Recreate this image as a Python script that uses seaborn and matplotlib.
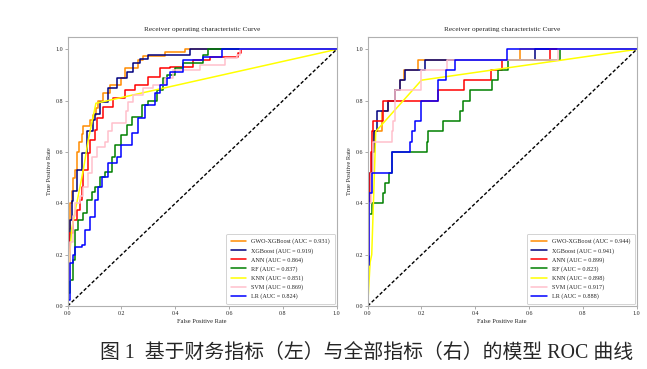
import matplotlib
matplotlib.use("Agg")
import matplotlib.pyplot as plt
import pandas as pd
import seaborn as sns

# Model names / colours / AUC values
models = ["GWO-XGBoost", "XGBoost", "ANN", "RF", "KNN", "SVM", "LR"]
colors = ["darkorange", "navy", "red", "green", "yellow", "pink", "blue"]
auc_left = [0.931, 0.919, 0.864, 0.837, 0.851, 0.869, 0.824]
auc_right = [0.944, 0.941, 0.899, 0.823, 0.898, 0.917, 0.888]

# ---- Left panel: financial indicators ----
fpr_l_gwo = [0, 0, 0.005, 0.01, 0.015, 0.02, 0.027, 0.035, 0.043, 0.052, 0.058, 0.083, 0.095, 0.105, 0.114, 0.132, 0.157, 0.2, 0.213, 0.262, 0.281, 0.362, 0.437, 1]
tpr_l_gwo = [0, 0.1, 0.3, 0.4, 0.45, 0.5, 0.53, 0.6, 0.64, 0.67, 0.7, 0.725, 0.745, 0.77, 0.8, 0.83, 0.86, 0.887, 0.926, 0.958, 0.975, 0.988, 1.0, 1.0]
fpr_l_xgb = [0, 0, 0.009, 0.015, 0.02, 0.033, 0.052, 0.07, 0.095, 0.1, 0.12, 0.151, 0.182, 0.219, 0.244, 0.269, 0.3, 0.455, 1]
tpr_l_xgb = [0, 0.166, 0.335, 0.41, 0.45, 0.53, 0.595, 0.68, 0.725, 0.75, 0.796, 0.848, 0.887, 0.913, 0.948, 0.962, 0.978, 1.0, 1.0]
fpr_l_ann = [0, 0, 0.006, 0.02, 0.033, 0.046, 0.052, 0.058, 0.077, 0.083, 0.101, 0.108, 0.132, 0.17, 0.213, 0.25, 0.3, 0.343, 0.38, 0.467, 0.529, 0.634, 0.645, 1]
tpr_l_ann = [0, 0.2, 0.283, 0.335, 0.374, 0.413, 0.465, 0.53, 0.595, 0.647, 0.686, 0.731, 0.776, 0.809, 0.841, 0.861, 0.893, 0.926, 0.932, 0.958, 0.971, 0.984, 1.0, 1.0]
fpr_l_rf = [0, 0, 0.01, 0.021, 0.027, 0.04, 0.058, 0.07, 0.089, 0.101, 0.12, 0.139, 0.164, 0.176, 0.2, 0.219, 0.238, 0.275, 0.3, 0.331, 0.355, 0.37, 0.399, 0.43, 0.504, 0.523, 1]
tpr_l_rf = [0, 0.05, 0.1, 0.18, 0.296, 0.335, 0.361, 0.413, 0.445, 0.465, 0.504, 0.523, 0.58, 0.627, 0.666, 0.705, 0.737, 0.783, 0.8, 0.841, 0.887, 0.9, 0.926, 0.945, 0.978, 1.0, 1.0]
fpr_l_knn = [0, 0, 0.015, 0.058, 0.077, 0.105, 1]
tpr_l_knn = [0, 0.1, 0.3, 0.53, 0.65, 0.79, 1.0]
fpr_l_svm = [0, 0, 0.01, 0.02, 0.027, 0.046, 0.058, 0.075, 0.089, 0.108, 0.139, 0.151, 0.164, 0.215, 0.225, 0.244, 0.281, 0.318, 0.36, 0.393, 0.492, 0.585, 0.628, 0.64, 1]
tpr_l_svm = [0, 0.1, 0.25, 0.35, 0.4, 0.43, 0.465, 0.52, 0.58, 0.62, 0.64, 0.68, 0.712, 0.76, 0.796, 0.822, 0.848, 0.861, 0.89, 0.919, 0.939, 0.965, 0.978, 1.0, 1.0]
fpr_l_lr = [0, 0, 0.009, 0.02, 0.027, 0.052, 0.064, 0.083, 0.101, 0.114, 0.126, 0.151, 0.182, 0.2, 0.238, 0.262, 0.287, 0.325, 0.343, 0.368, 0.38, 0.43, 0.504, 0.572, 1]
tpr_l_lr = [0, 0.023, 0.166, 0.2, 0.231, 0.238, 0.296, 0.348, 0.413, 0.465, 0.504, 0.556, 0.58, 0.627, 0.673, 0.731, 0.783, 0.829, 0.861, 0.887, 0.913, 0.958, 0.971, 1.0, 1.0]

# ---- Right panel: all indicators ----
fpr_r_gwo = [0, 0, 0.004, 0.01, 0.015, 0.022, 0.052, 0.055, 0.077, 0.101, 0.12, 0.135, 0.188, 0.566, 1]
tpr_r_gwo = [0, 0.16, 0.44, 0.52, 0.6, 0.68, 0.72, 0.76, 0.8, 0.84, 0.88, 0.92, 0.96, 1.0, 1.0]
fpr_r_xgb = [0, 0, 0.004, 0.01, 0.015, 0.022, 0.033, 0.035, 0.077, 0.101, 0.12, 0.139, 0.213, 0.622, 1]
tpr_r_xgb = [0, 0.16, 0.44, 0.52, 0.6, 0.68, 0.72, 0.76, 0.8, 0.84, 0.88, 0.92, 0.96, 1.0, 1.0]
fpr_r_ann = [0, 0, 0.006, 0.008, 0.012, 0.015, 0.02, 0.058, 0.262, 0.359, 0.46, 0.498, 0.678, 1]
tpr_r_ann = [0, 0.2, 0.4, 0.52, 0.6, 0.68, 0.72, 0.8, 0.84, 0.88, 0.92, 0.96, 1.0, 1.0]
fpr_r_rf = [0, 0, 0.006, 0.015, 0.058, 0.064, 0.08, 0.089, 0.092, 0.219, 0.226, 0.281, 0.343, 0.356, 0.38, 0.461, 0.486, 0.523, 0.715, 1]
tpr_r_rf = [0, 0.32, 0.36, 0.4, 0.44, 0.48, 0.52, 0.56, 0.6, 0.64, 0.68, 0.72, 0.76, 0.8, 0.84, 0.88, 0.92, 0.96, 1.0, 1.0]
fpr_r_knn = [0, 0.009, 0.015, 0.03, 0.2, 1]
tpr_r_knn = [0, 0.17, 0.2, 0.68, 0.88, 1.0]
fpr_r_svm = [0, 0, 0.006, 0.012, 0.018, 0.021, 0.089, 0.095, 0.1, 0.2, 0.294, 0.709, 1]
tpr_r_svm = [0, 0.2, 0.4, 0.52, 0.6, 0.64, 0.68, 0.72, 0.84, 0.92, 0.96, 1.0, 1.0]
fpr_r_lr = [0, 0, 0.006, 0.015, 0.09, 0.157, 0.165, 0.176, 0.2, 0.262, 0.29, 0.325, 0.517, 1]
tpr_r_lr = [0, 0.16, 0.44, 0.52, 0.6, 0.64, 0.68, 0.72, 0.8, 0.88, 0.92, 0.96, 1.0, 1.0]

left_curves = [(fpr_l_gwo, tpr_l_gwo), (fpr_l_xgb, tpr_l_xgb), (fpr_l_ann, tpr_l_ann),
               (fpr_l_rf, tpr_l_rf), (fpr_l_knn, tpr_l_knn), (fpr_l_svm, tpr_l_svm),
               (fpr_l_lr, tpr_l_lr)]
right_curves = [(fpr_r_gwo, tpr_r_gwo), (fpr_r_xgb, tpr_r_xgb), (fpr_r_ann, tpr_r_ann),
                (fpr_r_rf, tpr_r_rf), (fpr_r_knn, tpr_r_knn), (fpr_r_svm, tpr_r_svm),
                (fpr_r_lr, tpr_r_lr)]

caption = "图 1  基于财务指标（左）与全部指标（右）的模型 ROC 曲线"

sns.set_style("ticks")
plt.rcParams["font.family"] = ["Liberation Serif", "Noto Sans CJK SC"]

fig = plt.figure(figsize=(6.47, 3.69), dpi=100)
ax_l = fig.add_axes([0.1046, 0.1707, 0.4158, 0.7303])
ax_r = fig.add_axes([0.5683, 0.1707, 0.4158, 0.7303])


def draw_panel(ax, curves, aucs):
    for name, color, auc, (fpr, tpr) in zip(models, colors, aucs, curves):
        df = pd.DataFrame({"fpr": fpr, "tpr": tpr})
        style = "default" if name == "KNN" else "steps-post"
        sns.lineplot(data=df, x="fpr", y="tpr", ax=ax, sort=False, estimator=None,
                     color=color, lw=1.1, drawstyle=style,
                     label=f"{name} (AUC = {auc:.3f})")
    ax.plot([0, 1], [0, 1], color="black", lw=1.0, linestyle=(0, (2.5, 1.5)))
    ax.set_xlim(0.0, 1.0)
    ax.set_ylim(0.0, 1.05)
    ax.set_xticks([0, 0.2, 0.4, 0.6, 0.8, 1.0])
    ax.set_yticks([0, 0.2, 0.4, 0.6, 0.8, 1.0])
    ax.tick_params(labelsize=4.3, length=2, width=0.5, pad=1.5, color="#888888")
    ax.set_xlabel("False Positive Rate", fontsize=4.6, labelpad=2)
    ax.set_ylabel("True Positive Rate", fontsize=4.6, labelpad=2)
    ax.set_title("Receiver operating characteristic Curve", fontsize=5.2, pad=4)
    for sp in ax.spines.values():
        sp.set_color("#b0b0b0")
        sp.set_linewidth(0.8)
    leg = ax.legend(loc="lower right", fontsize=4.4, handlelength=2.5,
                    labelspacing=0.55, borderpad=0.8, borderaxespad=0.3,
                    framealpha=1)
    leg.get_frame().set_edgecolor("#cccccc")
    leg.get_frame().set_linewidth(0.6)


draw_panel(ax_l, left_curves, auc_left)
draw_panel(ax_r, right_curves, auc_right)

fig.text(0.567, 0.043, caption, fontsize=14.3, ha="center", va="center")

fig.savefig("out.png", dpi=100)
